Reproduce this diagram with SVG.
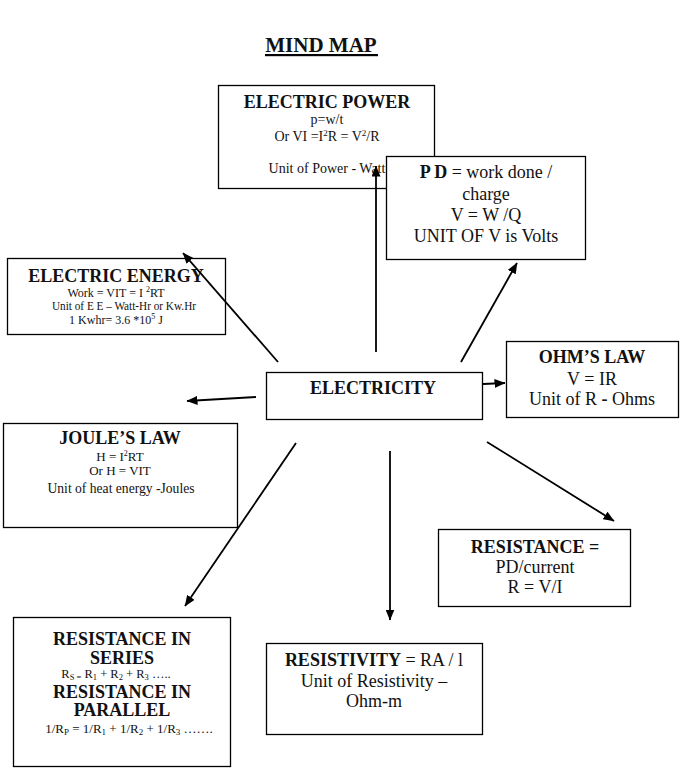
<svg xmlns="http://www.w3.org/2000/svg" width="686" height="776" viewBox="0 0 686 776">
<style>
text{font-family:"Liberation Serif","Times New Roman",serif;fill:#111;text-anchor:middle}
.t{font-weight:bold;font-size:18px}
.s{font-size:18px}
.m{font-size:14px}
.x{font-size:13px}
.e{font-size:12px}
.box{fill:#fff;stroke:#000;stroke-width:1.3}
.c{stroke:#000;stroke-width:1.8;fill:none;marker-end:url(#ah)}
</style>
<defs>
<marker id="ah" markerUnits="userSpaceOnUse" markerWidth="11" markerHeight="9" refX="10.5" refY="4.5" orient="auto">
<path d="M0,0 L11,4.5 L0,9 z" fill="#000"/>
</marker>
</defs>
<rect width="686" height="776" fill="#fff"/>
<g id="title">
<text x="321" y="52" style="font-weight:bold;font-size:21px">MIND MAP</text>
<rect x="265" y="54" width="113" height="2.2" fill="#000"/>
</g>
<g id="electric-power">
<rect class="box" x="218.5" y="85.5" width="216" height="103"/>
<text class="t" x="327" y="108">ELECTRIC POWER</text>
<text class="m" x="327" y="124">p=w/t</text>
<text class="m" x="327" y="141">Or VI =I<tspan dy="-5" font-size="9">2</tspan><tspan dy="5">R = V</tspan><tspan dy="-5" font-size="9">2</tspan><tspan dy="5">/R</tspan></text>
<text class="m" x="327" y="173">Unit of Power - Watt</text>
</g>
<g id="pd">
<rect class="box" x="386.5" y="156.5" width="199" height="103"/>
<text class="s" x="486" y="178"><tspan font-weight="bold">P D</tspan> = work done /</text>
<text class="s" x="486" y="200">charge</text>
<text class="s" x="486" y="221">V = W /Q</text>
<text class="s" x="486" y="242">UNIT OF V is Volts</text>
</g>
<g id="electric-energy">
<rect class="box" x="7.5" y="258.5" width="218" height="76"/>
<text class="t" x="116" y="282">ELECTRIC ENERGY</text>
<text class="e" x="116" y="296.5">Work  = VIT = I <tspan dy="-5" font-size="8">2</tspan><tspan dy="5">RT</tspan></text>
<text class="e" x="124" y="310" textLength="144" lengthAdjust="spacingAndGlyphs">Unit of E E – Watt-Hr or Kw.Hr</text>
<text class="e" x="116" y="323.5">1 Kwhr= 3.6 *10<tspan dy="-5" font-size="8">5</tspan><tspan dy="5"> J</tspan></text>
</g>
<g id="electricity">
<rect class="box" x="266.5" y="372.5" width="216" height="47"/>
<text class="t" x="373" y="394">ELECTRICITY</text>
</g>
<g id="ohms-law">
<rect class="box" x="506.5" y="341.5" width="172" height="76"/>
<text class="t" x="592" y="363">OHM’S LAW</text>
<text class="s" x="592" y="385">V = IR</text>
<text class="s" x="592" y="405">Unit of R <tspan font-weight="bold">-</tspan> Ohms</text>
</g>
<g id="joules-law">
<rect class="box" x="3.5" y="423.5" width="234" height="104"/>
<text class="t" x="120" y="444">JOULE’S LAW</text>
<text class="x" x="120" y="460.5">H = I<tspan dy="-5" font-size="8">2</tspan><tspan dy="5">RT</tspan></text>
<text class="x" x="120" y="475">Or H = VIT</text>
<text class="x" x="121" y="493" style="font-size:13.6px">Unit of heat energy -Joules</text>
</g>
<g id="resistance">
<rect class="box" x="438.5" y="529.5" width="192" height="77"/>
<text class="t" x="535" y="553">RESISTANCE =</text>
<text class="s" x="535" y="573">PD/current</text>
<text class="s" x="535" y="593">R = V/I</text>
</g>
<g id="series-parallel">
<rect class="box" x="13.5" y="617.5" width="217" height="149"/>
<text class="t" x="122" y="645">RESISTANCE IN</text>
<text class="t" x="122" y="664">SERIES</text>
<text class="x" x="116" y="678" style="font-size:12.5px">R<tspan dy="1.5" font-size="8.5">S =</tspan><tspan dy="-1.5"> R</tspan><tspan dy="1.5" font-size="8.5">1</tspan><tspan dy="-1.5"> + R</tspan><tspan dy="1.5" font-size="8.5">2</tspan><tspan dy="-1.5"> + R</tspan><tspan dy="1.5" font-size="8.5">3</tspan><tspan dy="-1.5"> …..</tspan></text>
<text class="t" x="122" y="697.5">RESISTANCE IN</text>
<text class="t" x="122" y="716">PARALLEL</text>
<text class="x" x="129" y="733">1/R<tspan dy="2" font-size="9">P</tspan><tspan dy="-2"> = 1/R</tspan><tspan dy="2" font-size="9">1</tspan><tspan dy="-2"> + 1/R</tspan><tspan dy="2" font-size="9">2</tspan><tspan dy="-2"> + 1/R</tspan><tspan dy="2" font-size="9">3</tspan><tspan dy="-2"> …….</tspan></text>
</g>
<g id="resistivity">
<rect class="box" x="266.5" y="643.5" width="216" height="91"/>
<text class="s" x="374" y="666"><tspan font-weight="bold">RESISTIVITY</tspan> = RA / l</text>
<text class="s" x="374" y="687">Unit of Resistivity –</text>
<text class="s" x="374" y="707">Ohm-m</text>
</g>
<g id="connectors">
<line class="c" x1="376" y1="352" x2="376" y2="166"/>
<line class="c" x1="461" y1="362" x2="517" y2="263"/>
<line class="c" x1="278" y1="362" x2="183" y2="253"/>
<line class="c" x1="256" y1="397" x2="187" y2="401"/>
<line class="c" x1="483" y1="384" x2="505" y2="383"/>
<line class="c" x1="487" y1="442" x2="614" y2="521"/>
<line class="c" x1="296" y1="443" x2="185" y2="606"/>
<line class="c" x1="390" y1="451" x2="390" y2="620"/>
</g>
</svg>
